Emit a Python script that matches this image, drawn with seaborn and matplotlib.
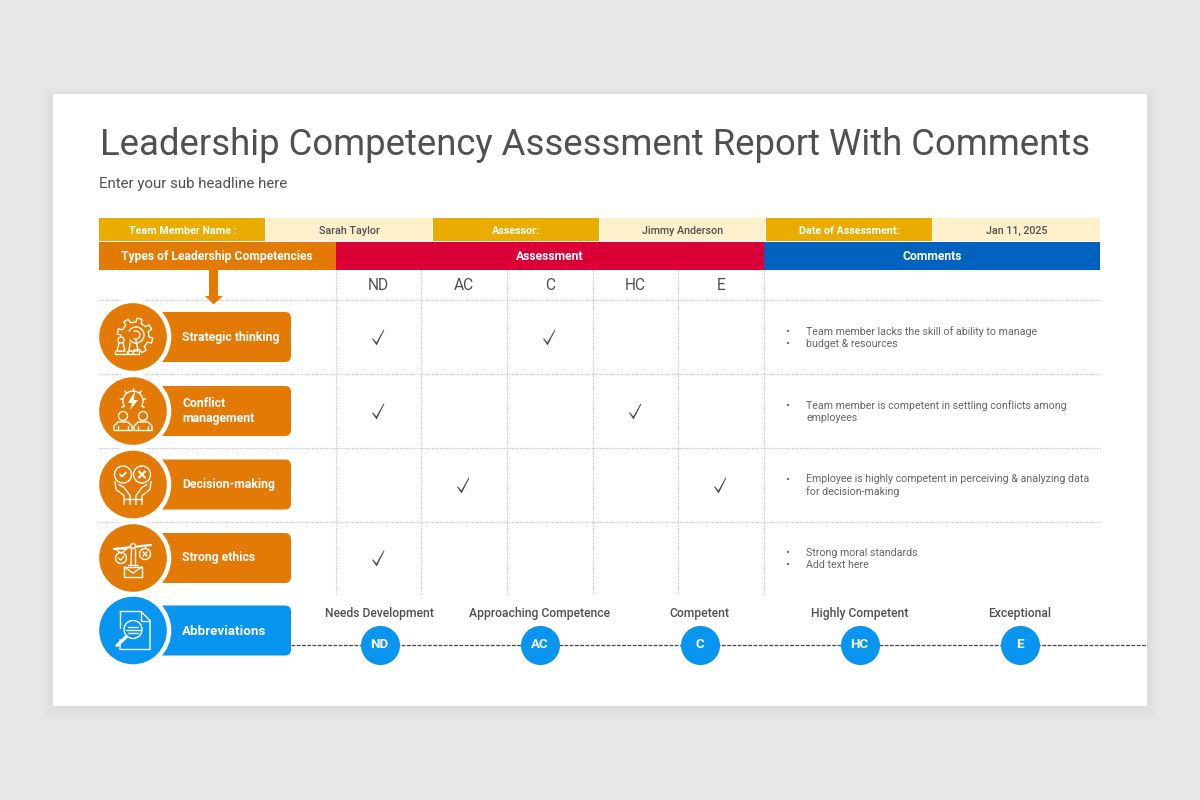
import numpy as np
import pandas as pd
import matplotlib
matplotlib.use("Agg")
import matplotlib.pyplot as plt
from matplotlib.patches import Rectangle, Circle, FancyBboxPatch, Polygon
from matplotlib.path import Path
import seaborn as sns

sns.set_theme(style="white")
plt.rcParams["font.family"] = ["Roboto", "DejaVu Sans"]

# ---------- data ----------
TITLE = "Leadership Competency Assessment Report With Comments"
SUBTITLE = "Enter your sub headline here"
info_cells = ["Team Member Name :", "Sarah Taylor", "Assessor:", "Jimmy Anderson",
              "Date of Assessment:", "Jan 11, 2025"]
section_labels = ["Types of Leadership Competencies", "Assessment", "Comments"]
levels = ["ND", "AC", "C", "HC", "E"]
level_names = ["Needs Development", "Approaching Competence", "Competent",
               "Highly Competent", "Exceptional"]
competencies = ["Strategic thinking", "Conflict\nmanagement", "Decision-making", "Strong ethics"]
checked = [["ND", "C"], ["ND", "HC"], ["AC", "E"], ["ND"]]
comments = [
    [("•", "Team member lacks the skill of ability to manage"), ("•", "budget & resources")],
    [("•", "Team member is competent in settling conflicts among"), ("", "employees")],
    [("•", "Employee is highly competent in perceiving & analyzing data"), ("", "for decision-making")],
    [("•", "Strong moral standards"), ("•", "Add text here")],
]

# ---------- colours ----------
BG, CARD = "#E8E6E7", "#FFFFFF"
GOLD, CREAM = "#EBAC00", "#FFF0CC"
ORANGE, RED, BLUE, SKY = "#E37A05", "#DA0037", "#0062BF", "#0895F0"
DARK, GREY, DOT = "#505050", "#666666", "#C4C4C4"

# ---------- layout grid (pixels) ----------
info_edges = [99, 266, 433, 600, 766, 933, 1100]
section_edges = [99, 336, 764, 1100]
col_edges = [335.5, 421, 506.5, 592.5, 678, 763.5]
col_centers = [(a + b) / 2 + 0.3 for a, b in zip(col_edges[:-1], col_edges[1:])]
row_lines = [300, 374, 447.5, 521.5]
row_centers = [337, 411, 484.5, 558]
abbr_y = 630.5
abbr_x = [379.5, 539.5, 699.5, 859.5, 1019.5]

fig = plt.figure(figsize=(12, 8), dpi=100, facecolor=BG)
ax = fig.add_axes([0, 0, 1, 1])
ax.set_xlim(0, 1200)
ax.set_ylim(800, 0)
ax.axis("off")

# card + soft shadow
for grow in range(1, 11):
    ax.add_patch(Rectangle((53 - grow, 94 - grow + 3), 1094 + 2 * grow, 612 + 2 * grow,
                           fc="black", ec="none", alpha=0.003, zorder=1))
ax.add_patch(Rectangle((53, 94), 1094, 612, fc=CARD, ec="none", zorder=1.5))

ax.text(99.5, 145, TITLE, fontsize=26.25, color=DARK, va="center", ha="left", zorder=5)
ax.text(99.0, 184, SUBTITLE, fontsize=10.85, color=DARK, va="center", ha="left", zorder=5)

# info band
for i, label in enumerate(info_cells):
    x0, x1 = info_edges[i], info_edges[i + 1]
    odd = i % 2 == 0
    ax.add_patch(Rectangle((x0, 218), x1 - x0 - (0.6 if i < 5 else 0), 23,
                           fc=GOLD if odd else CREAM, ec="none", zorder=3))
    ax.text((x0 + x1) / 2, 233.5, label, fontsize=7.75, weight="bold" if odd else "medium",
            color="white" if odd else DARK, ha="center", va="baseline", zorder=5)

# section band
for i, (label, col) in enumerate(zip(section_labels, [ORANGE, RED, BLUE])):
    x0, x1 = section_edges[i], section_edges[i + 1]
    ax.add_patch(Rectangle((x0, 242), x1 - x0, 27.5, fc=col, ec="none", zorder=3))
    ax.text((x0 + x1) / 2 - (0 if i else 0.5), 260, label, fontsize=8.75, weight="bold",
            color="white", ha="center", va="baseline", zorder=5)

# grid
for y in row_lines:
    ax.plot([99, 1100], [y, y], color=DOT, lw=0.9, ls=(0, (1, 1)), zorder=2)
for x in col_edges:
    ax.plot([x, x], [269.5, 595], color=DOT, lw=0.9, ls=(0, (1, 1)), zorder=2)

for x, lab in zip(col_centers, levels):
    ax.text(x, 285.5, lab, fontsize=11.2, color=DARK, ha="center", va="center", zorder=5)

# arrow
ax.add_patch(Polygon([(209, 269), (218, 269), (218, 296), (223, 296), (213.5, 304.5),
                      (205, 296), (209, 296)], fc=ORANGE, ec="none", zorder=3))

# checks, through seaborn
check_marker = Path([(-6.9, -1.5), (-6.4, -1.0), (-3.0, -5.0), (4.1, 7.5), (4.55, 7.2), (-2.8, -7.4), (-6.9, -1.5)],
                    closed=True)
check_df = pd.DataFrame(
    [{"x": col_centers[levels.index(l)], "y": row_centers[r]} for r, row in enumerate(checked) for l in row]
)
sns.scatterplot(data=check_df, x="x", y="y", marker=check_marker, s=125, color="#3C3C3C",
                linewidth=0.15, edgecolor="#3C3C3C", ax=ax, zorder=5, legend=False)


# ---------- icons ----------
def line(cx, cy, pts, lw=1.0, closed=False):
    p = [(cx + a, cy + b) for a, b in pts]
    if closed:
        p.append(p[0])
    ax.plot(*zip(*p), color="white", lw=lw, zorder=7, solid_capstyle="round", solid_joinstyle="round")


def ring(cx, cy, dx, dy, r, lw=1.0, fc="none"):
    ax.add_patch(Circle((cx + dx, cy + dy), r, fc=fc, ec="white", lw=lw, zorder=7))


def arc(cx, cy, dx, dy, r, a0, a1, lw=1.0):
    t = np.radians(np.linspace(a0, a1, 30))
    ax.plot(cx + dx + r * np.cos(t), cy + dy + r * np.sin(t), color="white", lw=lw, zorder=7)


def icon_gear(cx, cy):
    ang = np.radians(np.arange(-165, 195, 45))
    pts = []
    for a in ang:
        w = 0.2
        pts += [(14 * np.cos(a - w), 14 * np.sin(a - w)), (18 * np.cos(a - w * .7), 18 * np.sin(a - w * .7)),
                (18 * np.cos(a + w * .7), 18 * np.sin(a + w * .7)), (14 * np.cos(a + w), 14 * np.sin(a + w))]
    line(cx + 2, cy - 1, [p for p in pts if not (p[0] < -4 and p[1] > 2)])
    arc(cx, cy, 3, -2, 8, -150, 140)
    arc(cx, cy, 3, -2, 4, -120, 120)
    # pawn
    ring(cx, cy, -12, 3, 3)
    line(cx, cy, [(-14, 6), (-16, 14), (-8, 14), (-10, 6)])
    line(cx, cy, [(-18, 14), (-18, 17), (-6, 17), (-6, 14)])
    # rook
    line(cx, cy, [(-3, 6), (-4, 14), (5, 14), (3, 3)])
    line(cx, cy, [(-5, 14), (-5, 17), (6, 17), (6, 14)])


def person(cx, cy, dx):
    ring(cx, cy, dx, 5, 4.5)
    line(cx, cy, [(dx - 9, 19), (dx - 9, 15), (dx - 5, 11), (dx + 5, 11), (dx + 9, 15), (dx + 9, 19)])
    line(cx, cy, [(dx - 9, 19), (dx + 9, 19)])
    line(cx, cy, [(dx - 5, 15), (dx - 5, 19)])
    line(cx, cy, [(dx + 5, 15), (dx + 5, 19)])


def icon_conflict(cx, cy):
    person(cx, cy, -10)
    person(cx, cy, 10)
    arc(cx, cy, 0, -10, 10, 150, 390)
    for a in np.radians(np.arange(150, 400, 40)):
        line(cx, cy, [(10 * np.cos(a), -10 + 10 * np.sin(a)), (13 * np.cos(a), -10 + 13 * np.sin(a))])
    ax.add_patch(Polygon([(cx + 2, cy - 20), (cx - 5, cy - 8), (cx - 1, cy - 8), (cx - 3, cy - 1),
                          (cx + 5, cy - 11), (cx + 1, cy - 11)], fc="white", ec="none", zorder=7))


def icon_decision(cx, cy):
    ring(cx, cy, -10, -10, 8.5)
    ring(cx, cy, 9, -10, 8.5)
    line(cx, cy, [(-13, -10), (-11, -8), (-7, -12)], lw=1.3)
    line(cx, cy, [(6, -13), (12, -7)], lw=1.5)
    line(cx, cy, [(12, -13), (6, -7)], lw=1.5)
    line(cx, cy, [(-18, -3), (-17, 5), (-9, 11), (-9, 20)])
    line(cx, cy, [(18, -3), (17, 5), (9, 11), (9, 20)])
    line(cx, cy, [(-3, 20), (-3, 11), (-9, 3), (-14, 0)])
    line(cx, cy, [(3, 20), (3, 11), (9, 3), (14, 0)])
    line(cx, cy, [(-9, 14), (9, 14)])


def icon_scale(cx, cy):
    line(cx, cy, [(-19, -9), (18, -13)], lw=1.6)
    ring(cx, cy, 0, -12, 2.5, fc=ORANGE)
    line(cx, cy, [(-1.5, -9), (-2, 7)])
    line(cx, cy, [(2, -9), (2, 7)])
    line(cx, cy, [(-5, 7), (5, 7)])
    ring(cx, cy, -12, 0, 5.5)
    line(cx, cy, [(-15, 0), (-12, 2), (-9, -2)])
    line(cx, cy, [(-12, -5), (-18, -9), (-6, -9), (-12, -5)], lw=.8)
    ring(cx, cy, 12, -4, 5.5)
    line(cx, cy, [(10, -6), (14, -2)])
    line(cx, cy, [(14, -6), (10, -2)])
    line(cx, cy, [(12, -10), (12, -12)], lw=.8)
    line(cx, cy, [(-9, 9), (9, 9), (9, 19), (-9, 19)], closed=True)
    line(cx, cy, [(-9, 9), (0, 15), (9, 9)])


def icon_doc(cx, cy):
    line(cx, cy, [(-13, -19), (8, -19), (17, -10), (17, 19), (-13, 19), (-13, 9)])
    line(cx, cy, [(-13, -3), (-13, -19)])
    line(cx, cy, [(8, -19), (8, -10), (17, -10)])
    ring(cx, cy, 0, -1, 9)
    for dy, w in [(-4, 5), (-1, 7), (2, 5)]:
        line(cx, cy, [(-w, dy), (w, dy)])
    line(cx, cy, [(-6.5, 6), (-16, 15)], lw=2.4)


ICONS = [icon_gear, icon_conflict, icon_decision, icon_scale]


def badge(y, col, draw_icon):
    ax.add_patch(FancyBboxPatch((155, y - 25), 136, 50, boxstyle="round,pad=0,rounding_size=6",
                                fc=col, ec="none", zorder=3))
    ax.add_patch(Circle((133, y), 38.3, fc="white", ec="none", zorder=4))
    ax.add_patch(Circle((133, y), 33.8, fc=col, ec="none", zorder=5))
    draw_icon(133, y)


for y, name, ic in zip(row_centers, competencies, ICONS):
    badge(y, ORANGE, ic)
    ax.text(182.2, y, name, fontsize=8.85, weight="bold", color="white", ha="left", va="center",
            linespacing=1.2, zorder=6)
badge(abbr_y, SKY, icon_doc)
ax.text(182.2, abbr_y + 1, "Abbreviations", fontsize=9.6, weight="bold", color="white",
        ha="left", va="center", zorder=6)

# comments
for y, lines in zip(row_centers, comments):
    for k, (bullet, txt) in enumerate(lines):
        yy = y - 2 + 12.3 * k
        ax.text(787.5, yy, bullet, fontsize=8, color=GREY, ha="center", va="baseline", zorder=5)
        ax.text(806.5, yy, txt, fontsize=7.63, color=GREY, ha="left", va="baseline", zorder=5)

# abbreviation timeline
ax.plot([291, 1147], [644.5, 644.5], color="#444444", lw=0.9, ls=(0, (3, 1.2)), zorder=2.5)
abbr_df = pd.DataFrame({"x": abbr_x, "y": [644.5] * len(abbr_x), "lab": levels, "name": level_names})
sns.scatterplot(data=abbr_df, x="x", y="y", s=790, color=SKY, edgecolor="white", linewidth=0,
                ax=ax, zorder=4, legend=False)
for _, r in abbr_df.iterrows():
    ax.text(r["x"], 645, r["lab"], fontsize=9.6, weight="bold", color="white", ha="center", va="center", zorder=6)
    ax.text(r["x"], 613, r["name"], fontsize=8.7, weight="medium", color=DARK, ha="center", va="center", zorder=6)

ax.set_xlabel("")
ax.set_ylabel("")
ax.set_xlim(0, 1200)
ax.set_ylim(800, 0)
fig.savefig("out.png", dpi=100, facecolor=BG)
